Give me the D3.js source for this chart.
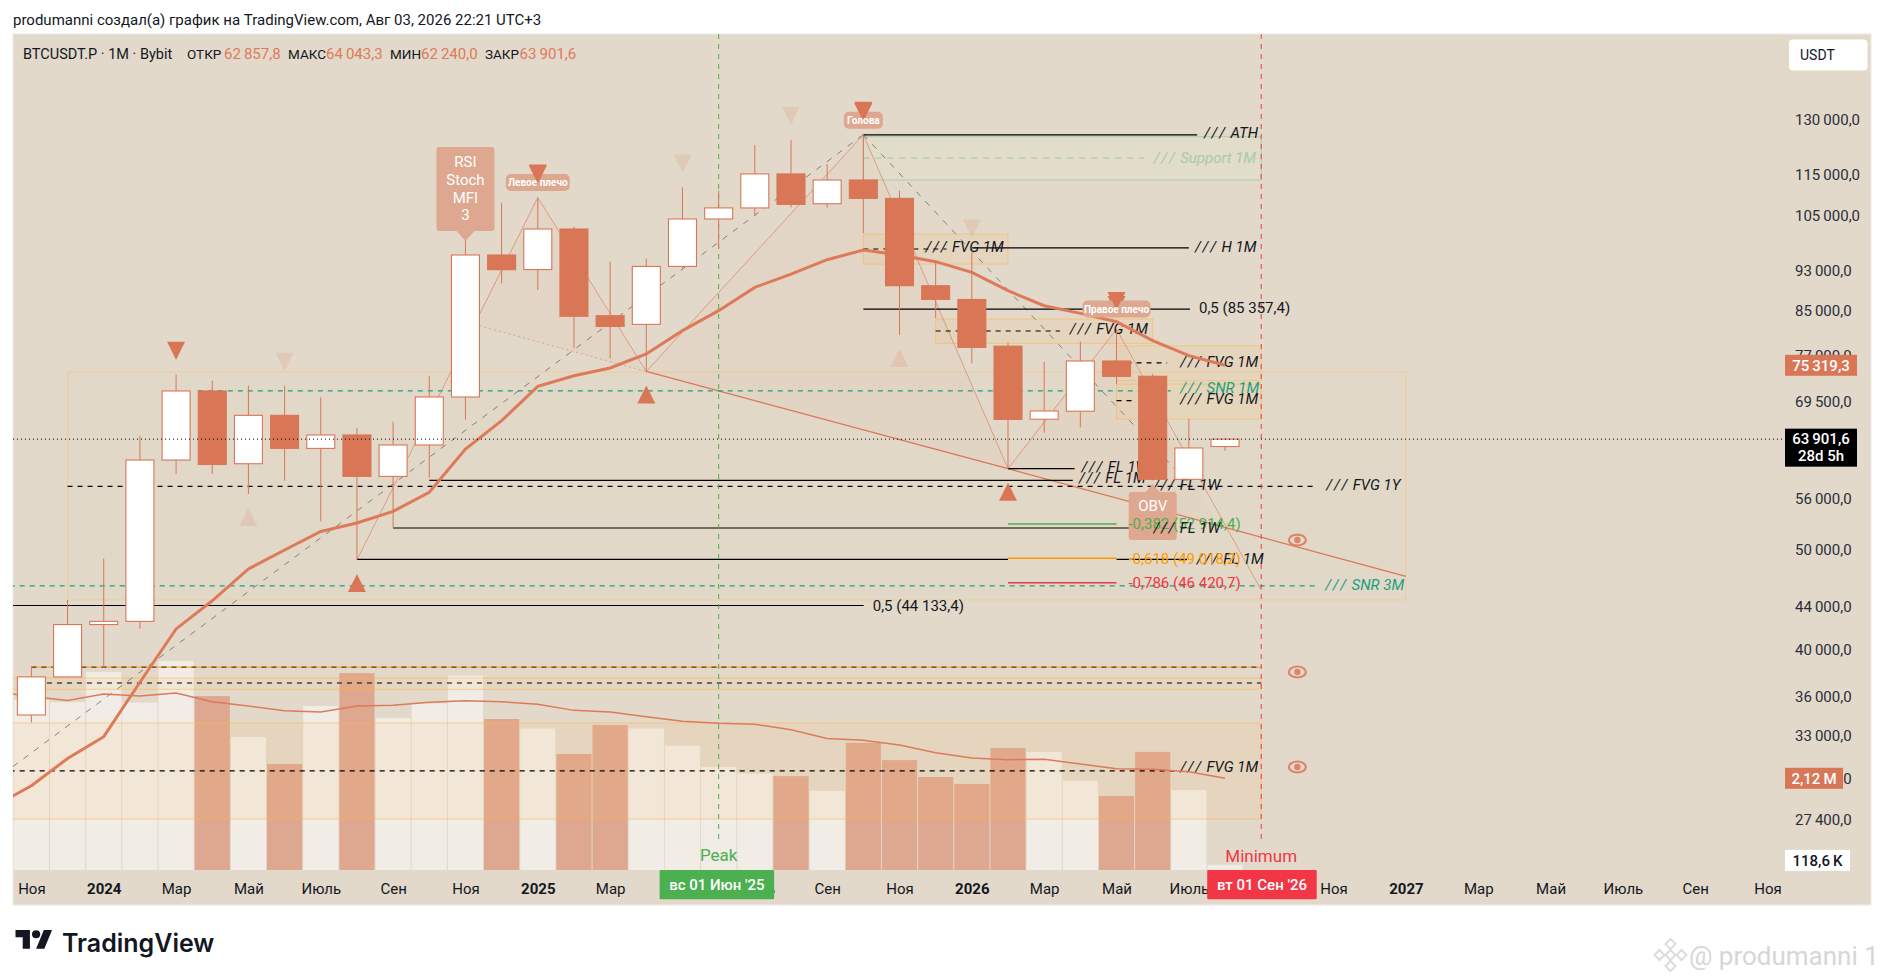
<!DOCTYPE html>
<html><head><meta charset="utf-8">
<script src="https://cdn.jsdelivr.net/npm/d3@7/dist/d3.min.js"></script>
<style>html,body{margin:0;padding:0;background:#fff}svg{display:block}text{font-family:Roboto,"Noto Sans",sans-serif}</style>
</head><body><div id="c"></div>
<script>
const months=["Ноя 23","Дек 23","Янв 24","Фев 24","Мар 24","Апр 24","Май 24","Июн 24","Июл 24","Авг 24","Сен 24","Окт 24","Ноя 24","Дек 24","Янв 25","Фев 25","Мар 25","Апр 25","Май 25","Июн 25","Июл 25","Авг 25","Сен 25","Окт 25","Ноя 25","Дек 25","Янв 26","Фев 26","Мар 26","Апр 26","Май 26","Июн 26","Июл 26","Авг 26"];
const opens=[34590,37650,42300,42600,61000,71130,60500,67380,62600,64500,58820,63080,70190,96270,93200,102000,84100,82500,93850,104300,106900,115300,107900,113750,109190,89900,87200,78600,66800,68000,76040,73500,58440,62857.8];
const highs=[38450,44670,48970,64400,73760,72770,71970,71970,70120,65510,66430,73600,99800,108150,109400,102500,94850,95530,111900,111070,123000,124400,117870,125820,111070,94700,96800,79250,75920,79380,81640,73880,66840,64043.3];
const lows=[34020,37600,38450,41900,59140,59140,56560,58270,53200,48840,52510,58680,66730,90370,89060,78200,76480,74300,93380,97620,105070,107030,107000,101100,80570,83670,75630,59840,64830,65600,72240,58300,58300,62240];
const closes=[37650,42300,42600,61000,71130,60400,67380,62600,64500,58820,63080,70190,96270,93170,102000,84000,82120,93850,104300,106900,115300,107740,113750,109190,89900,87220,78380,66780,68040,76040,73480,58440,62660,63901.6];
const emaIdx=d3.range(-1,34);
const emaVals=[28270,29550,31400,32960,37200,41890,44600,47870,49930,52040,53020,54420,56770,62520,66580,71860,73590,74870,77230,81350,85050,89570,92270,95260,97340,96270,94850,92610,88920,85990,84540,82990,79560,76950,75319.3];
const volumes=[3.93,3.88,4.58,3.87,4.83,4.02,3.07,2.45,3.79,4.55,3.51,3.85,4.49,3.49,3.27,2.68,3.35,3.27,2.87,2.38,2.23,2.17,1.83,2.94,2.54,2.15,1.99,2.82,2.73,2.06,1.71,2.73,1.85,0.1186];
const volMA=[4.12,4.01,3.92,4.07,4.02,4.09,3.89,3.79,3.68,3.65,3.79,3.81,3.88,3.91,3.89,3.83,3.69,3.65,3.54,3.44,3.39,3.37,3.24,3.04,3.00,2.89,2.71,2.59,2.55,2.56,2.45,2.34,2.33,2.27,2.12];
const priceTicks=[130000,115000,105000,93000,85000,77000,69500,56000,50000,44000,40000,36000,33000,30000,27400];
const timeTicks=d3.range(0,49,2);
const timeLabels=["Ноя","2024","Мар","Май","Июль","Сен","Ноя","2025","Мар","Май","Июль","Сен","Ноя","2026","Мар","Май","Июль","Сен","Ноя","2027","Мар","Май","Июль","Сен","Ноя"];
const patternPts=[[9,48840],[14,109400],[17,74300],[23,125820],[27,59840],[30,81640],[34,45680]];
const patternFill=[[12.2,82250],[14,109400],[17,74300],[23,125820],[27,59840],[30,81640],[32.8,52600]];
const neck=[[17,74300],[27,59840],[38,47090]];
const neckLeft=[[12.39,82250],[17,74300]];
const trendUp=[[-0.51,30840],[23,125820]];
const trendDown=[[23,125820],[31.6,59840]];
const solidDown=[4,14,23,30], fadedDown=[7,18,21,26], solidUp=[9,17,27], fadedUp=[6,24];
// zones: [fromMonth,toMonth,topPrice,bottomPrice]
const orangeZones=[[23,27,100870,94350],[25,31,83490,79080],[30,34,78630,72790],[30,34,72240,66830],[-0.6,34,37560,36620],[-0.6,34,33980,27440]];
const yearZone=[1,38,74200,44680];
const supportZone=[23,34,125250,113750];
// levels: [fromMonth,toMonth,price]
const solidLevels=[[23,32.23,125740],[26,32,97790],[23,32.03,85357.4],[-0.6,23.01,44133.4],[27,28.84,59840],[11,28.79,58300],[10,30.82,52440],[9,27,48900],[30,31.95,48900]];
const dashedLevels=[[23,25.3,97560],[25,28.44,81290],[30,31.4,75710],[30,30.48,69620],[1,35.49,57520],[-0.4,34,37140],[-0.6,31.6,30540]];
const tealLevels=[[4.6,31.5,71140],[-0.6,35.5,46100]];
const fibLevels=[[27,30,52914.4,"#4caf50","-0,382 (52 914,4)"],[27,30,49018.2,"#ff9800","-0,618 (49 018,2)"],[27,30,46420.7,"#f23645","-0,786 (46 420,7)"]];
const blackLabels=[[32.42,126400,"/// ATH"],[32.17,98000,"/// H 1M"],[24.72,98000,"/// FVG 1M"],[28.71,81700,"/// FVG 1M"],[31.76,75900,"/// FVG 1M"],[31.76,69900,"/// FVG 1M"],[29.03,60050,"/// FL 1W"],[28.96,58700,"/// FL 1M"],[31.02,57800,"/// FL 1W"],[32.22,48950,"/// FL 1M"],[35.8,57800,"/// FVG 1Y"],[31.76,30800,"/// FVG 1M"]];
const plainLabels=[[32.28,85600,"0,5 (85 357,4)"],[23.26,44133.4,"0,5 (44 133,4)"]];
const eyes=[[35,51050],[35,38060],[35,30810]];

const C="#d97656",BG="#e2d9ca";
const x=d3.scaleLinear().domain([0,48]).range([31.4,1767.6]);
const y=d3.scaleLog().domain([27400,130000]).range([819.7,120]);
const v=d3.scaleLinear().domain([0,5]).range([870,653.7]);
const fmt=d3.formatLocale({decimal:",",thousands:"\u2009",grouping:[3],currency:["",""]}).format(",.1f");
const svg=d3.select("#c").append("svg").attr("width",1884).attr("height",980);
svg.append("rect").attr("width",1884).attr("height",980).attr("fill","#fff");
svg.append("rect").attr("x",13).attr("y",34).attr("width",1858).attr("height",871).attr("fill",BG).attr("stroke","#eceae6");
svg.append("clipPath").attr("id","p").append("rect").attr("x",13).attr("y",34).attr("width",1772).attr("height",836);
const g=svg.append("g").attr("clip-path","url(#p)");
const F=15;
function T(p,tx,ty,s,o={}){return p.append("text").attr("x",tx).attr("y",ty).attr("dy","0.35em").text(o.italic?s.replace("///","/\u200a/\u200a/\u200a"):s).attr("font-size",o.size||F).attr("fill",o.fill||"#131722").attr("font-style",o.italic?"italic":null).attr("font-weight",o.weight||null).attr("text-anchor",o.anchor||null);}

// volume
const step=x(1)-x(0);
g.selectAll(".vol").data(volumes).join("rect").attr("x",(d,i)=>x(i)-step/2+0.5).attr("width",step-1)
 .attr("y",d=>v(d)).attr("height",d=>v(0)-v(d)).attr("fill",(d,i)=>closes[i]>=opens[i]?"rgba(255,255,255,.5)":"rgba(217,118,86,.5)");

// zones
function zone(z,fill,stroke){g.append("rect").attr("x",x(z[0])).attr("width",x(z[1])-x(z[0])).attr("y",y(z[2])).attr("height",y(z[3])-y(z[2])).attr("fill",fill).attr("stroke",stroke);}
zone(yearZone,"rgba(255,183,77,.015)","rgba(255,183,77,.35)");
orangeZones.forEach(z=>zone(z,"rgba(255,186,88,.1)","rgba(255,183,77,.55)"));
zone(supportZone,"rgba(225,240,200,.15)","rgba(129,199,132,.55)");
function lvl(l,col,dash,w){g.append("line").attr("x1",x(l[0])).attr("x2",x(l[1])).attr("y1",y(l[2])).attr("y2",y(l[2])).attr("stroke",col).attr("stroke-width",w||1.2).attr("stroke-dasharray",dash||null);}
lvl([0,34,38480],"#f0a93c");
lvl([0,34,38480],"rgba(60,30,0,.8)","5 5");
lvl([23,30.76,119450],"#b0cca8","6 6");

// pattern
const line=d3.line().x(d=>x(d[0])).y(d=>y(d[1]));
g.append("path").attr("d",line(patternFill)+"Z").attr("fill","rgba(217,118,86,.035)");
g.append("path").attr("d",line(patternPts)).attr("fill","none").attr("stroke","rgba(217,118,86,.6)");
g.append("path").attr("d",line(neck)).attr("fill","none").attr("stroke",C).attr("stroke-width",1.2);
g.append("path").attr("d",line(neckLeft)).attr("fill","none").attr("stroke","rgba(217,118,86,.5)").attr("stroke-dasharray","2 3");
[trendUp,trendDown].forEach(t=>g.append("path").attr("d",line(t)).attr("fill","none").attr("stroke","#85807a").attr("stroke-dasharray","6 7"));

solidLevels.forEach(l=>lvl(l,"#000"));
dashedLevels.forEach(l=>lvl(l,"#000","5 5"));
tealLevels.forEach(l=>lvl(l,"#1a9e80","5 5"));
fibLevels.forEach(f=>lvl(f,f[3],null,1.4));

// verticals
[[19,"#4caf50"],[34,"#f23645"]].forEach(d=>g.append("line").attr("x1",x(d[0])).attr("x2",x(d[0])).attr("y1",34).attr("y2",840).attr("stroke",d[1]).attr("stroke-dasharray","5 5"));

// labels under the candles
blackLabels.forEach(l=>T(g,x(l[0]),y(l[1]),l[2],{italic:1}));
plainLabels.forEach(l=>T(g,x(l[0]),y(l[1]),l[2]));
T(g,x(31.03),y(119600),"/// Support 1M",{italic:1,fill:"#a9cba6"});
T(g,x(31.76),y(71700),"/// SNR 1M",{italic:1,fill:"#1a9e80"});
T(g,x(35.77),y(46250),"/// SNR 3M",{italic:1,fill:"#1a9e80"});
T(g,x(31.6),876,"/// FL 1W",{italic:1});

// EMA
const ema=d3.line().x((d,i)=>x(emaIdx[i])).y(d=>y(d));
g.append("path").attr("d",ema(emaVals)).attr("fill","none").attr("stroke","#dd7a5a").attr("stroke-width",3);
const vma=d3.line().x((d,i)=>x(emaIdx[i])).y(d=>v(d));
g.append("path").attr("d",vma(volMA)).attr("fill","none").attr("stroke","#dd7a5a").attr("stroke-width",1.5);

// candles
const cg=g.selectAll(".c").data(months).join("g");
cg.append("line").attr("x1",(d,i)=>x(i)).attr("x2",(d,i)=>x(i)).attr("y1",(d,i)=>y(highs[i])).attr("y2",(d,i)=>y(lows[i])).attr("stroke",C);
cg.append("rect").attr("x",(d,i)=>x(i)-14).attr("width",28).attr("y",(d,i)=>y(Math.max(opens[i],closes[i]))).attr("height",(d,i)=>Math.max(1,Math.abs(y(opens[i])-y(closes[i]))))
 .attr("fill",(d,i)=>closes[i]>=opens[i]?"#fff":C).attr("stroke",C).attr("stroke-width",1.1);

// markers
function tri(i,up,fill,gap){const px=x(i);const b=up?y(lows[i])+(gap||14):y(highs[i])-15;const d=up?18:-18;
 g.append("path").attr("d",`M${px},${b}L${px+9},${b+d}L${px-9},${b+d}Z`).attr("fill",fill);}
solidUp.forEach(i=>tri(i,true,C));
tri(31,true,C,7);
fadedUp.forEach(i=>tri(i,true,"rgba(217,118,86,.16)"));
solidDown.forEach(i=>tri(i,false,C));
fadedDown.forEach(i=>tri(i,false,"rgba(217,118,86,.16)"));

// callouts
const CF="#dea78f";
function rsi(i){const px=x(i),tip=y(highs[i])+2,top=147,bot=231,w=29;
 g.append("path").attr("d",`M${px-w},${top+3}q0,-3 3,-3H${px+w-3}q3,0 3,3V${bot-3}q0,3 -3,3H${px+9}L${px},${tip}L${px-9},${bot}H${px-w+3}q-3,0 -3,-3Z`).attr("fill",CF);
 ["RSI","Stoch","MFI","3"].forEach((s,k)=>T(g,px,162+k*17.7,s,{fill:"#fff",anchor:"middle"}));}
rsi(12);
function pill(i,s,off,w){const px=x(i),cy=y(highs[i])-off;
 g.append("rect").attr("x",px-w/2).attr("y",cy-8.5).attr("width",w).attr("height",17).attr("rx",5).attr("fill",CF);
 g.append("path").attr("d",`M${px},${cy+1}L${px+9},${cy-17}L${px-9},${cy-17}Z`).attr("fill",C);
 T(g,px,cy,s,{fill:"#fff",size:10,anchor:"middle",weight:700});}
pill(14,"Левое плечо",15,64);pill(23,"Голова",14.5,39);pill(30,"Правое плечо",20,68);
const ox=x(31);
g.append("path").attr("d",`M${ox-24},495q0,-3 3,-3H${ox-7}L${ox},484L${ox+7},492H${ox+21}q3,0 3,3V537q0,3 -3,3H${ox-21}q-3,0 -3,-3Z`).attr("fill",CF);
T(g,ox,506,"OBV",{fill:"#fff",anchor:"middle"});
fibLevels.forEach(f=>T(g,x(30.33),y(f[2]),f[4],{fill:f[3]}));
T(g,x(31.02),y(52440),"/// FL 1W",{italic:1});

// eyes
eyes.forEach(e=>{const a=g.append("g").attr("transform",`translate(${x(e[0])},${y(e[1])})`);
 a.append("ellipse").attr("rx",8.5).attr("ry",5.5).attr("fill",BG).attr("stroke","#df8468").attr("stroke-width",2.2);
 a.append("circle").attr("r",3.2).attr("fill","#df8468");});

// last price line
g.append("line").attr("x1",13).attr("x2",1785).attr("y1",y(closes[33])).attr("y2",y(closes[33])).attr("stroke","#000").attr("stroke-dasharray","1 3");

// peak/min
T(g,x(19),855,"Peak",{fill:"#4caf50",size:17,anchor:"middle"});
T(g,x(34),856,"Minimum",{fill:"#f23645",size:17,anchor:"middle"});

// price axis
const pa=svg.append("g").attr("transform","translate(1795,0)").call(d3.axisRight(y).tickValues(priceTicks).tickSize(0).tickPadding(0).tickFormat(fmt));
pa.select(".domain").remove();
pa.selectAll("text").attr("font-size",15).attr("fill","#2a2e39").style("font-family","Roboto");

// time axis
const ta=svg.append("g").attr("transform","translate(0,871)").call(d3.axisBottom(x).tickValues(timeTicks).tickSize(0).tickPadding(12).tickFormat((d,i)=>timeLabels[i]));
ta.select(".domain").remove();
ta.selectAll("text").attr("font-size",15).attr("fill","#131722").style("font-family","Roboto").attr("font-weight",(d,i)=>/^\d/.test(timeLabels[i])?700:null);

// axis tags
function tag(px,pw,py,ph,fill,lines,col,extra){svg.append("rect").attr("x",px).attr("y",py).attr("width",pw).attr("height",ph).attr("fill",fill).attr("rx",extra||0);
 lines.forEach((s,k)=>T(svg,px+pw/2,py+(lines.length>1?10+k*17:ph/2),s,{fill:col,anchor:"middle",weight:500}));}
tag(x(19)-59,114.5,870,29.3,"#4caf50",["вс 01 Июн '25"],"#fff",1);
tag(x(34)-54,109.5,870,29.3,"#f23645",["вт 01 Сен '26"],"#fff",1);
tag(1785,72,y(75319.3)-10.5,21,C,[fmt(75319.3)],"#fff");
tag(1785,72,y(closes[33])-10.5,38,"#000",[fmt(closes[33]),"28d 5h"],"#fff");
tag(1785,58,v(2.12)-10.5,21,C,["2,12\u2009M"],"#fff");
tag(1785,65,v(0.1186)-15,21,"#fff",["118,6\u2009K"],"#131722");
svg.append("rect").attr("x",1789).attr("y",39.5).attr("width",78.5).attr("height",31).attr("rx",4).attr("fill","#fff");
T(svg,1800,55,"USDT",{size:14});

// header
T(svg,13,20,"produmanni создал(а) график на TradingView.com, Авг 03, 2026 22:21 UTC+3",{size:15});
T(svg,23,54,"BTCUSDT.P · 1M · Bybit",{size:14.5});
[[187,"ОТКР"],[288,"МАКС"],[390,"МИН"],[485,"ЗАКР"]].forEach(l=>T(svg,l[0],54,l[1],{size:13.5}));
[[224,opens[33]],[326,highs[33]],[421,lows[33]],[519.6,closes[33]]].forEach(l=>T(svg,l[0],54,fmt(l[1]),{size:15,fill:"#df7a5a"}));

// logo
svg.append("path").attr("transform","translate(15.5,926) scale(1.03)").attr("d","M14 22H7V11H0V4h14v18zM28 22h-8l7.5-18h8L28 22z").attr("fill","#131722");
svg.append("circle").attr("cx",15.5+20*1.03).attr("cy",926+8*1.03).attr("r",4.1).attr("fill","#131722");
T(svg,62,943,"TradingView",{size:25,weight:600,fill:"#131722"}).style("font-family","Inter");

// watermark
const wm=svg.append("g").attr("transform","translate(1670.5,955)").attr("fill","none").attr("stroke","#dcdcdc").attr("stroke-width",2);
[[0,-11],[11,0],[-11,0],[0,11],[0,0]].forEach(p=>wm.append("path").attr("d",`M${p[0]},${p[1]-5}l5,5l-5,5l-5,-5Z`));
T(svg,1689,956,"@ produmanni 1",{size:26,fill:"#d6d6d6"});
</script></body></html>
